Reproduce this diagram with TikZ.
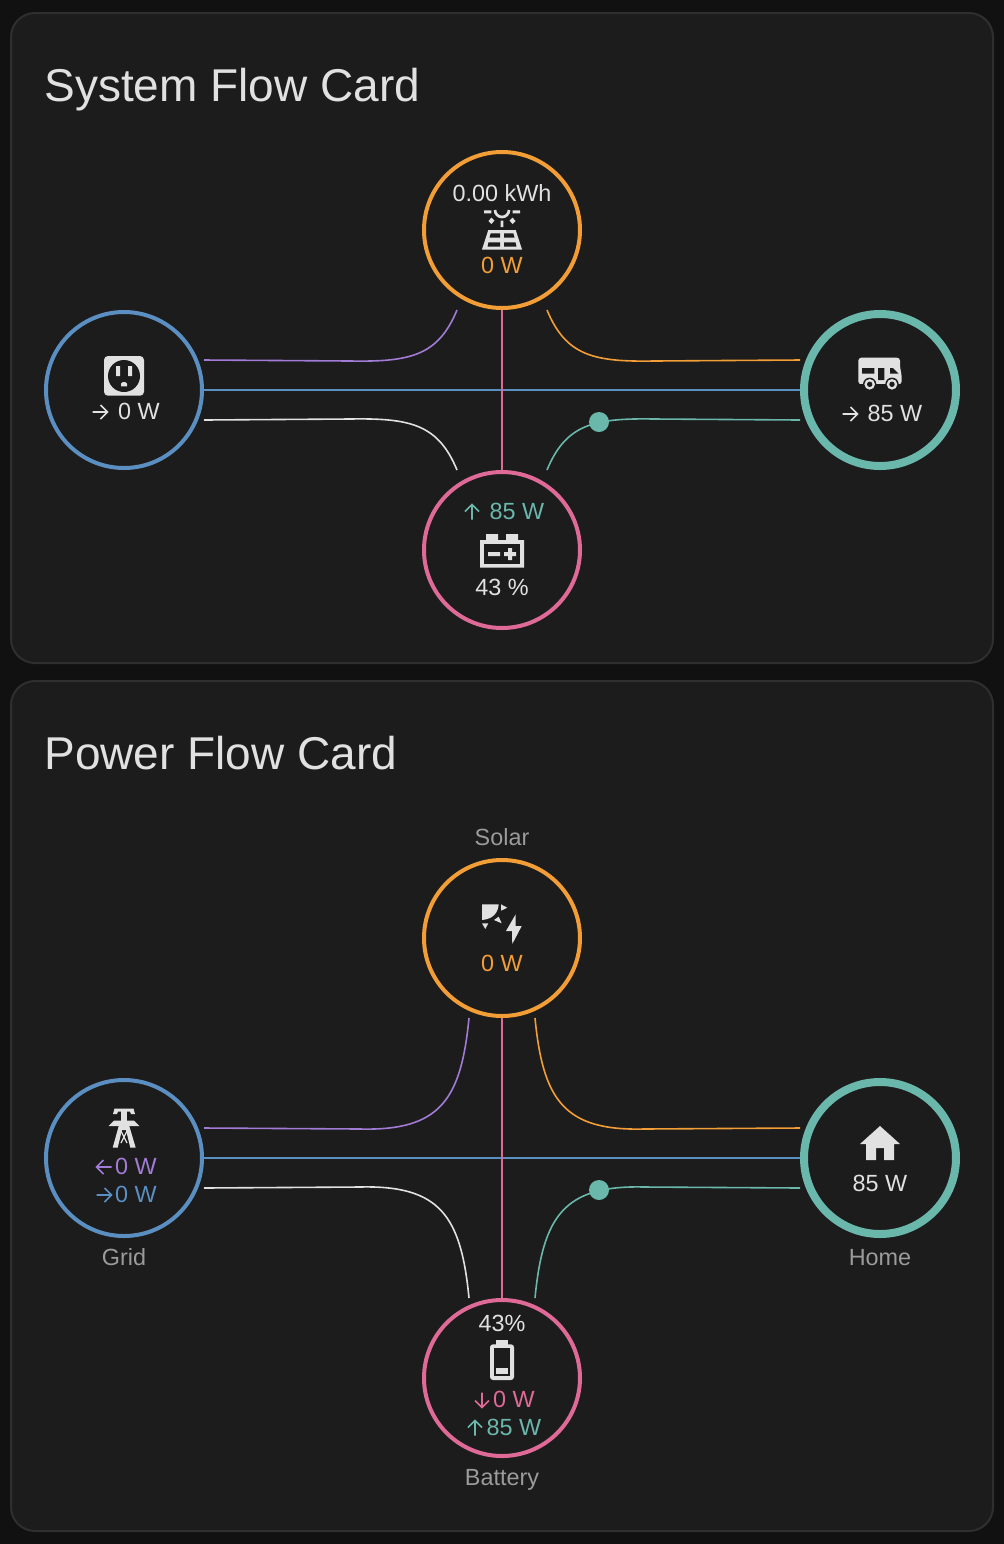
\documentclass[tikz,border=0pt]{standalone}
\usepackage{fontspec}
\setmainfont{Liberation Sans}
\usepackage{xcolor}
\usetikzlibrary{calc, positioning}

\definecolor{pagebg}{HTML}{111111}
\definecolor{cardbg}{HTML}{1C1C1C}
\definecolor{cardline}{HTML}{2F2F2F}
\definecolor{txt}{HTML}{E1E1E1}
\definecolor{muted}{HTML}{9B9B9B}
\definecolor{solarc}{HTML}{F29D35}
\definecolor{gridc}{HTML}{5B8FC2}
\definecolor{battc}{HTML}{E06A97}
\definecolor{homec}{HTML}{6AB7AB}
\definecolor{exportc}{HTML}{A17BD5}

\tikzset{
    card/.style={fill=cardbg, draw=cardline, line width=1pt, rounded corners=12pt},
    ring/.style={circle, draw=#1, line width=2pt, inner sep=0, minimum size=78pt},
    thickring/.style={circle, draw=#1, line width=4pt, inner sep=0, minimum size=76pt},
    val/.style={anchor=base, inner sep=0, text=#1, font=\fontsize{11.7}{14}\selectfont},
    val/.default=txt,
    title/.style={anchor=base west, inner sep=0, text=txt, font=\fontsize{23}{28}\selectfont},
    flow/.style={draw=#1, line width=0.8pt},
    icon/.style={fill=txt},
    hole/.style={fill=cardbg},
    arrowicon/.pic={
        \draw[line width=0.85pt] (-7.5,0) -- (7.5,0) (0.5,-7) -- (7.5,0) -- (0.5,7);
    }
}

\begin{document}
\begin{tikzpicture}[x=0.5pt, y=-0.5pt]
    \useasboundingbox (0, 0) rectangle (1004, 1544);
    \fill[pagebg] (0, 0) rectangle (1004, 1544);
    \draw[card] (11, 13) rectangle (993, 663);
    \draw[card] (11, 681) rectangle (993, 1531);

    \node[title] (title1) at (44, 101) {System Flow Card};
    \node[title] (title2) at (44, 769) {Power Flow Card};

    % system flow card
    \node[ring=solarc] (solar1) at (502, 230) {};
    \node[ring=gridc] (grid1) at (124, 390) {};
    \node[ring=battc] (batt1) at (502, 550) {};
    \node[thickring=homec] (home1) at (880, 390) {};

    \coordinate (gs1) at (204, 360);
    \coordinate (gb1) at (204, 420);
    \coordinate (hs1) at (800, 360);
    \coordinate (hb1) at (800, 420);
    \coordinate (sg1) at (457, 310);
    \coordinate (sh1) at (547, 310);
    \coordinate (bg1) at (457, 470);
    \coordinate (bh1) at (547, 470);

    \draw[flow=gridc] (grid1.east) -- (home1.west);
    \draw[flow=battc] (solar1.south) -- (batt1.north);
    \draw[flow=exportc] (sg1) .. controls (438, 356) and (410, 362) .. (350, 361) -- (gs1);
    \draw[flow=solarc] (sh1) .. controls (566, 356) and (594, 362) .. (654, 361) -- (hs1);
    \draw[flow=txt] (bg1) .. controls (438, 424) and (410, 418) .. (350, 419) -- (gb1);
    \draw[flow=homec] (bh1) .. controls (566, 424) and (594, 418) .. (654, 419) -- (hb1);
    \fill[homec] (599, 422) circle (10);

    \node[val] (kwh1) at (502, 201.5) {0.00 kWh};
    \node[val=solarc] (sw1) at (502, 273.5) {0 W};
    \node[val] (gw1) at (139, 419.5) {0 W};
    \node[val] (hw1) at (895, 421.5) {85 W};
    \node[val=homec] (bw1) at (517, 519.5) {85 W};
    \node[val] (pct1) at (502, 595.5) {43 \%};

    \pic[color=txt] at (100, 412) {arrowicon};
    \pic[color=txt] at (850, 414) {arrowicon};
    \pic[color=homec, rotate=90] at (472, 512) {arrowicon};

    % solar panel
    \draw[txt, line width=1.35pt] (495, 210) arc[start angle=180, end angle=0, radius=7];
    \fill[icon] (484, 210.3) rectangle (491.3, 213.3) (512.7, 210.3) rectangle (520, 213.3) (500.6, 220.7) rectangle (503.4, 227);
    \fill[icon] (488.5, 221) -- (491.5, 217.5) -- (494.5, 220.5) -- (491.5, 224) -- cycle;
    \fill[icon] (515.5, 221) -- (512.5, 217.5) -- (509.5, 220.5) -- (512.5, 224) -- cycle;
    \fill[icon] (488.3, 230) -- (515.7, 230) -- (522, 249.5) -- (482, 249.5) -- cycle;
    \fill[hole] (490.7, 233.3) -- (500, 233.3) -- (500, 237.5) -- (489.5, 237.5) -- cycle;
    \fill[hole] (513.3, 233.3) -- (504, 233.3) -- (504, 237.5) -- (514.5, 237.5) -- cycle;
    \fill[hole] (488.5, 242.3) -- (500, 242.3) -- (500, 246.7) -- (487.5, 246.7) -- cycle;
    \fill[hole] (515.5, 242.3) -- (504, 242.3) -- (504, 246.7) -- (516.5, 246.7) -- cycle;

    % outlet
    \fill[icon, rounded corners=2pt] (104, 356) rectangle (144, 395.7);
    \fill[hole] (124, 376) circle (16);
    \fill[icon] (116, 366) rectangle (120, 376) (128, 366) rectangle (132, 376);
    \fill[icon] (121, 386.3) -- (121, 383.5) .. controls (122, 381.5) and (126, 381.5) .. (127, 383.5) -- (127, 386.3) -- cycle;

    % camper
    \fill[icon, rounded corners=1.5pt] (858.3, 384.3) -- (858.3, 357.7) -- (900, 357.7) -- (900, 366.7) -- (901.7, 375.7) -- (901.7, 384.3) -- cycle;
    \fill[hole] (862, 368) rectangle (874.3, 373.7) (878, 368) rectangle (884.3, 380);
    \fill[hole] (890, 368) -- (893, 368) -- (898.7, 373.7) -- (890, 373.7) -- cycle;
    \fill[hole] (869.7, 384.3) circle (6.7) (892, 384.3) circle (6.7);
    \fill[hole] (860, 384.3) rectangle (901.7, 391);
    \fill[icon] (869.7, 384.3) circle (5.3) (892, 384.3) circle (5.3);
    \fill[hole] (869.7, 384.3) circle (2.7) (892, 384.3) circle (2.7);

    % car battery
    \fill[icon] (480, 540) rectangle (524, 567.7) (486, 534) rectangle (498, 540) (506, 534) rectangle (518, 540);
    \fill[hole] (484, 544) rectangle (520, 564);
    \fill[icon] (488, 552) rectangle (500, 556) (504, 552) rectangle (516, 556) (508, 548) rectangle (512, 560);

    % power flow card
    \node[ring=solarc] (solar2) at (502, 938) {};
    \node[ring=gridc] (grid2) at (124, 1158) {};
    \node[ring=battc] (batt2) at (502, 1378) {};
    \node[thickring=homec] (home2) at (880, 1158) {};

    \coordinate (gs2) at (204, 1128);
    \coordinate (gb2) at (204, 1188);
    \coordinate (hs2) at (800, 1128);
    \coordinate (hb2) at (800, 1188);
    \coordinate (sg2) at (469, 1018);
    \coordinate (sh2) at (535, 1018);
    \coordinate (bg2) at (469, 1298);
    \coordinate (bh2) at (535, 1298);

    \draw[flow=gridc] (grid2.east) -- (home2.west);
    \draw[flow=battc] (solar2.south) -- (batt2.north);
    \draw[flow=exportc] (sg2) .. controls (461, 1100) and (440, 1131) .. (360, 1129) -- (gs2);
    \draw[flow=solarc] (sh2) .. controls (543, 1100) and (564, 1131) .. (644, 1129) -- (hs2);
    \draw[flow=txt] (bg2) .. controls (461, 1216) and (440, 1185) .. (360, 1187) -- (gb2);
    \draw[flow=homec] (bh2) .. controls (543, 1216) and (564, 1185) .. (644, 1187) -- (hb2);
    \fill[homec] (599, 1190) circle (10);

    \node[val=muted] (solarlabel) at (502, 845.5) {Solar};
    \node[val=solarc] (sw2) at (502, 971.5) {0 W};
    \node[val=exportc] (gw2a) at (136, 1174.5) {0 W};
    \node[val=gridc] (gw2b) at (136, 1202.5) {0 W};
    \node[val=muted] (gridlabel) at (124, 1265.5) {Grid};
    \node[val] (hw2) at (880, 1191.5) {85 W};
    \node[val=muted] (homelabel) at (880, 1265.5) {Home};
    \node[val] (pct2) at (502, 1331.5) {43\%};
    \node[val=battc] (bw2a) at (514, 1407.5) {0 W};
    \node[val=homec] (bw2b) at (514, 1435.5) {85 W};
    \node[val=muted] (battlabel) at (502, 1485.5) {Battery};

    \pic[color=exportc, rotate=180] at (104, 1167) {arrowicon};
    \pic[color=gridc] at (104, 1195) {arrowicon};
    \pic[color=battc, rotate=-90] at (482, 1400) {arrowicon};
    \pic[color=homec, rotate=90] at (475, 1428) {arrowicon};

    % sun and bolt
    \fill[icon] (482, 904.3) -- (498.7, 904.3) .. controls (498, 913) and (493, 919) .. (482, 920) -- cycle;
    \fill[icon] (501, 904.3) -- (507.3, 907.7) -- (501, 910.7) -- cycle;
    \fill[icon] (482, 923.3) -- (488.3, 923.3) -- (485.3, 929) -- cycle;
    \fill[icon] (494, 920) -- (498.7, 916.7) -- (501.7, 923.3) -- cycle;
    \fill[icon] (515.7, 914.3) -- (506, 931) -- (512, 931) -- (512.3, 944) -- (521.7, 926) -- (515.7, 926) -- cycle;

    % pylon
    \fill[icon] (113, 1114) -- (114.5, 1108.5) -- (133.5, 1108.5) -- (135, 1114) -- (131, 1114) -- (130, 1111.5) -- (118, 1111.5) -- (117, 1114) -- cycle;
    \fill[icon] (121, 1111) rectangle (127, 1121);
    \fill[icon] (108.5, 1126) -- (114, 1120.5) -- (134, 1120.5) -- (139.5, 1126) -- cycle;
    \fill[icon] (112.7, 1147.7) -- (117.7, 1147.7) -- (122, 1130) -- (126, 1130) -- (130.3, 1147.7) -- (135.7, 1147.7) -- (129, 1125) -- (119, 1125) -- cycle;
    \draw[txt, line width=0.6pt] (120.5, 1130) -- (127, 1143) (127.5, 1130) -- (121, 1143);

    % battery
    \fill[icon, rounded corners=1.5pt] (490, 1344.3) rectangle (514, 1380);
    \fill[icon] (496, 1340) rectangle (508, 1345);
    \fill[hole] (494, 1348.3) rectangle (510, 1376);
    \fill[icon] (496, 1368) rectangle (508, 1374);

    % house
    \fill[icon] (880, 1126) -- (900, 1144) -- (894, 1144) -- (894, 1160) -- (884, 1160) -- (884, 1148) -- (876, 1148) -- (876, 1160) -- (866, 1160) -- (866, 1144) -- (860, 1144) -- cycle;
\end{tikzpicture}
\end{document}
